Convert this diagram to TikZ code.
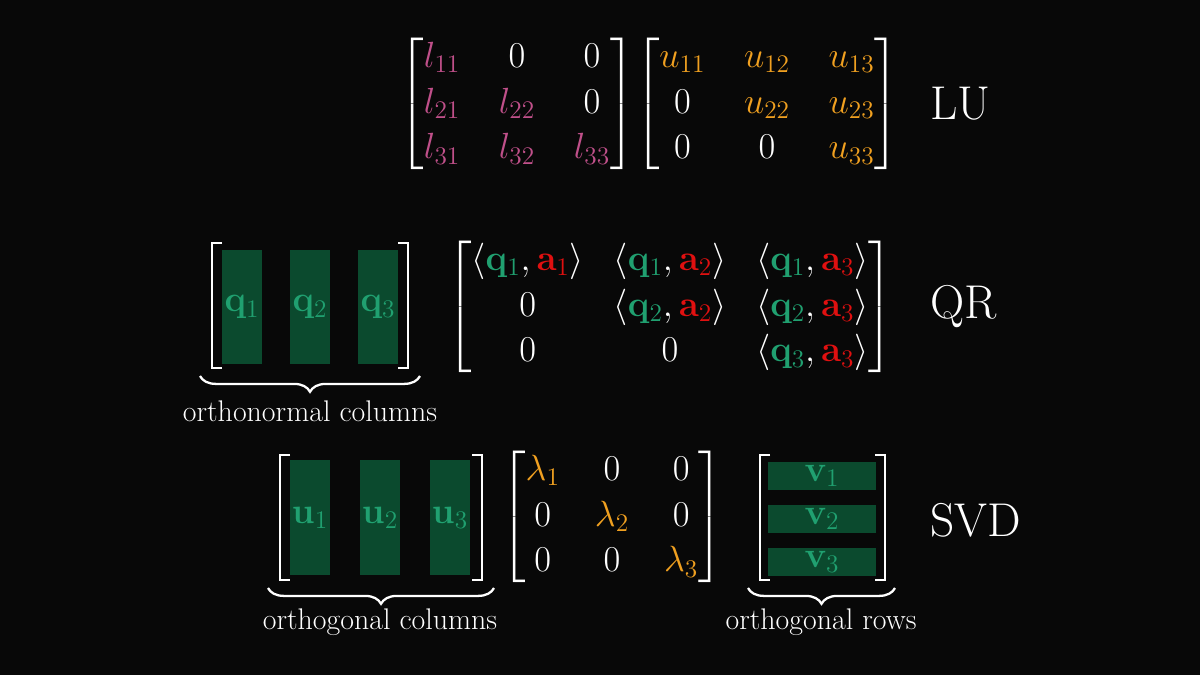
\documentclass[tikz,border=0pt]{standalone}
\usepackage{amsmath}
\usetikzlibrary{decorations.pathreplacing}
\definecolor{bg}{HTML}{080808}
\definecolor{lp}{HTML}{C0508A}
\definecolor{uo}{HTML}{F0A020}
\definecolor{rr}{HTML}{E01010}
\definecolor{gg}{HTML}{20A070}
\definecolor{dg}{HTML}{0B4A2E}
\newcommand{\Lc}[1]{\color{lp}l_{#1}}
\newcommand{\Uc}[1]{\color{uo}u_{#1}}
\newcommand{\qq}[1]{{\color{gg}\mathbf{q}_{#1}}}
\newcommand{\avec}[1]{{\color{rr}\mathbf{a}_{#1}}}
\newcommand{\ip}[2]{\langle\qq{#1},\avec{#2}\rangle}
\begin{document}
\begin{tikzpicture}[x=0.02cm,y=-0.02cm,
  txt/.style={text=white,font=\fontsize{21}{26}\selectfont,inner sep=0},
  lab/.style={text=white,font=\fontsize{27}{32}\selectfont,inner sep=0,anchor=west},
  small/.style={text=white,font=\fontsize{17}{20}\selectfont,inner sep=0},
  col/.style={fill=dg,draw=none},
  brk/.style={white,line width=1.3pt},
  brc/.style={white,line width=1.3pt,decorate,decoration={brace,mirror,amplitude=9pt}}]
\fill[bg] (0,0) rectangle (1200,675);
\useasboundingbox (0,0) rectangle (1200,675);
\setlength\arraycolsep{11pt}
% LU
\node[txt] (L) at (517,104) {$\left[\begin{matrix}\Lc{11}&0&0\\\Lc{21}&\Lc{22}&0\\\Lc{31}&\Lc{32}&\Lc{33}\end{matrix}\right]$};
\node[txt] (U) at (767,104) {$\left[\begin{matrix}\Uc{11}&\Uc{12}&\Uc{13}\\0&\Uc{22}&\Uc{23}\\0&0&\Uc{33}\end{matrix}\right]$};
\node[lab] (lu) at (930,104) {LU};
% QR
\foreach \x/\i in {222/1,290/2,358/3}{
  \fill[col] (\x,250) rectangle (\x+40,364);
  \node[txt] (q\i) at (\x+20,307) {$\qq{\i}$};}
\draw[brk] (222,243) -- (212,243) -- (212,368) -- (222,368);
\draw[brk] (398,243) -- (408,243) -- (408,368) -- (398,368);
\draw[brc] (200,376) -- (420,376);
\node[small] (on) at (310,411) {orthonormal columns};
{\setlength\arraycolsep{8.5pt}
\node[txt] (R) at (670,307) {$\left[\begin{matrix}\ip11&\ip12&\ip13\\0&\ip22&\ip23\\0&0&\ip33\end{matrix}\right]$};}
\node[lab] (qr) at (930,307) {QR};
% SVD
\foreach \x/\i in {290/1,360/2,430/3}{
  \fill[col] (\x,460) rectangle (\x+40,575);
  \node[txt] (u\i) at (\x+20,518) {$\color{gg}\mathbf{u}_{\i}$};}
\draw[brk] (290,455) -- (280,455) -- (280,580) -- (290,580);
\draw[brk] (472,455) -- (482,455) -- (482,580) -- (472,580);
\draw[brc] (268,588) -- (494,588);
\node[small] (og) at (380,622) {orthogonal columns};
{\setlength\arraycolsep{10pt}
\node[txt] (S) at (612,517) {$\left[\begin{matrix}\color{uo}\lambda_1&0&0\\0&\color{uo}\lambda_2&0\\0&0&\color{uo}\lambda_3\end{matrix}\right]$};}
\foreach \y/\i in {462/1,505/2,548/3}{
  \fill[col] (768,\y) rectangle (876,\y+28);
  \node[txt] (v\i) at (822,\y+14) {$\color{gg}\mathbf{v}_{\i}$};}
\draw[brk] (770,455) -- (760,455) -- (760,580) -- (770,580);
\draw[brk] (875,455) -- (885,455) -- (885,580) -- (875,580);
\draw[brc] (748,588) -- (895,588);
\node[small] (orow) at (821,622) {orthogonal rows};
\node[lab] (svd) at (930,520) {SVD};
\end{tikzpicture}
\end{document}
